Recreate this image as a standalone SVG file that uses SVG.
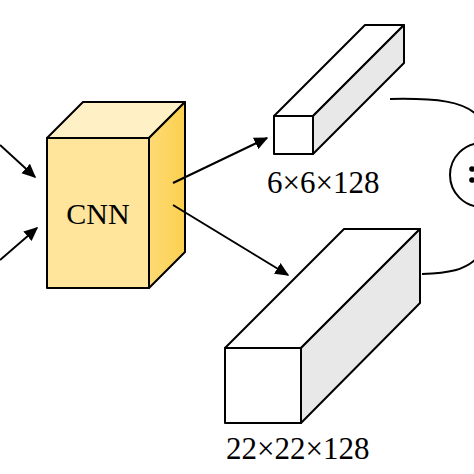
<svg xmlns="http://www.w3.org/2000/svg" width="474" height="474" viewBox="0 0 474 474">
<style>
.ln{stroke:#000;stroke-width:2;stroke-linejoin:round;fill:none}
.f{stroke:#000;stroke-width:2;stroke-linejoin:round}
.t{font-family:"Liberation Serif","Times New Roman",serif;fill:#000}
</style>
<defs>
<marker id="ah" viewBox="0 0 10 10" refX="9" refY="5" markerWidth="7" markerHeight="7" markerUnits="strokeWidth" orient="auto">
<path d="M0,0.5 L10,5 L0,9.5 z" fill="#000"/>
</marker>
<linearGradient id="side" x1="0" y1="0" x2="1" y2="0">
<stop offset="0" stop-color="#FDDB75"/>
<stop offset="1" stop-color="#FCCF4E"/>
</linearGradient>
</defs>
<rect width="474" height="474" fill="#fff"/>
<g id="cnn">
<polygon class="f" points="47,138 83,102 185,102 149,138" fill="#FFF0C6"/>
<polygon class="f" points="149,138 185,102 185,252 149,288" fill="url(#side)"/>
<rect class="f" x="47" y="138" width="102" height="150" fill="#FFE49C"/>
<text class="t" x="98" y="224" font-size="30" text-anchor="middle">CNN</text>
</g>
<g id="small-box">
<polygon class="f" points="274,116 365,25 404,25 313,116" fill="#fff"/>
<polygon class="f" points="313,116 404,25 404,63 313,154" fill="#E8E8E8"/>
<rect class="f" x="274" y="116" width="39" height="38" fill="#fff"/>
<text class="t" x="267" y="193" font-size="31">6×6×128</text>
</g>
<g id="big-box">
<polygon class="f" points="225,348 344,229 420,229 301,348" fill="#fff"/>
<polygon class="f" points="301,348 420,229 420,303 301,423" fill="#E8E8E8"/>
<rect class="f" x="225" y="348" width="76" height="75" fill="#fff"/>
<text class="t" x="226" y="459" font-size="31">22×22×128</text>
</g>
<g id="op">
<circle class="ln" cx="482" cy="175" r="32"/>
<circle cx="472" cy="169" r="2.8" fill="#000"/>
<circle cx="472" cy="180" r="2.8" fill="#000"/>
</g>
<g id="connectors">
<line class="ln" x1="0" y1="145" x2="35" y2="177" marker-end="url(#ah)"/>
<line class="ln" x1="0" y1="260" x2="37" y2="228" marker-end="url(#ah)"/>
<line class="ln" x1="173" y1="183" x2="267" y2="138" marker-end="url(#ah)"/>
<line class="ln" x1="173" y1="205" x2="288" y2="275" marker-end="url(#ah)"/>
<path class="ln" d="M390,99 C440,98 462,102 476,114"/>
<path class="ln" d="M422,274 C450,273 464,270 476,259"/>
</g>
</svg>
